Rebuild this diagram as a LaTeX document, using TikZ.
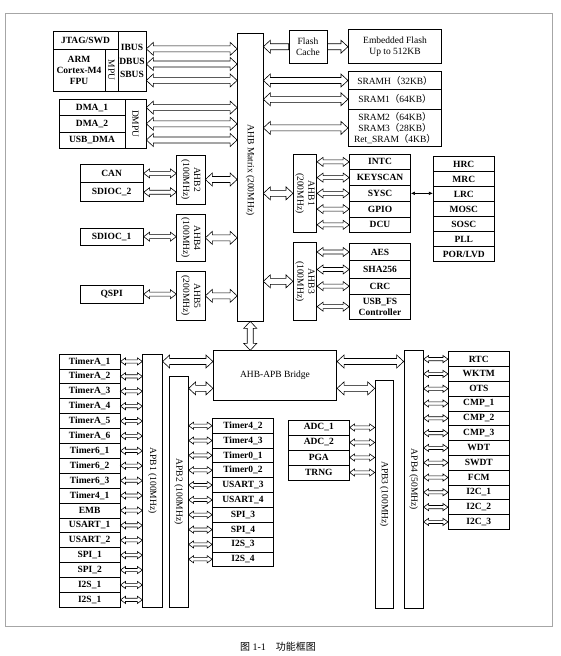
\documentclass[tikz,border=0pt]{standalone}
\usepackage{fontspec}
\setmainfont{Liberation Serif}
\newfontfamily\cjk{Noto Sans CJK SC}
\usetikzlibrary{calc,arrows.meta}
\newcommand{\fwl}{{\cjk （}}
\newcommand{\fwr}{{\cjk ）}}
\tikzset{
  bigbus/.code={\def\arS{3pt}\def\arH{6.5pt}\def\arL{7pt}},
  midbus/.code={\def\arS{2pt}\def\arH{4.5pt}\def\arL{6pt}},
  smallbus/.code={\def\arS{1.6pt}\def\arH{3.6pt}\def\arL{5pt}},
  busline/.style={line width=.6pt},
  box/.style={draw, line width=.7pt, inner sep=0pt, align=center, font=\fontsize{9.5}{11}\selectfont},
  hbox/.style={box, font=\fontsize{9.5}{11}\selectfont\bfseries},
  cell/.style={hbox, minimum width=61pt, minimum height=#1},
  cell/.default=14.8pt,
  vlabel/.style={rotate=-90, align=center, inner sep=0pt, font=\fontsize{9.5}{11}\selectfont}
}
\newcommand\busarrow[3][bigbus]{%
  \coordinate (ta) at (#2); \coordinate (tb) at (#3);
  \draw[busline,#1] (ta) -- ($(ta)!\arL!(tb)!\arH!90:(tb)$) -- ($(ta)!\arL!(tb)!\arS!90:(tb)$)
    -- ($(tb)!\arL!(ta)!\arS!-90:(ta)$) -- ($(tb)!\arL!(ta)!\arH!-90:(ta)$) -- (tb)
    -- ($(tb)!\arL!(ta)!\arH!90:(ta)$) -- ($(tb)!\arL!(ta)!\arS!90:(ta)$)
    -- ($(ta)!\arL!(tb)!\arS!-90:(tb)$) -- ($(ta)!\arL!(tb)!\arH!-90:(tb)$) -- cycle;}
\newcommand\onearrow[3][bigbus]{%
  \coordinate (ta) at (#2); \coordinate (tb) at (#3);
  \draw[busline,#1] ($(ta)!\arS!90:(tb)$) -- ($(tb)!\arL!(ta)!\arS!-90:(ta)$)
    -- ($(tb)!\arL!(ta)!\arH!-90:(ta)$) -- (tb) -- ($(tb)!\arL!(ta)!\arH!90:(ta)$)
    -- ($(tb)!\arL!(ta)!\arS!90:(ta)$) -- ($(ta)!\arS!-90:(tb)$) -- cycle;}
\begin{document}
\begin{tikzpicture}[x=1pt, y=-1pt]
\useasboundingbox (0,0) rectangle (560,656);
\draw[gray!70, line width=1pt] (5,13) rectangle (552,626);

\node[hbox, minimum width=65pt, minimum height=18pt] (jtag) at (85.5,40) {JTAG/SWD};
\node[hbox, minimum width=52pt, minimum height=42pt] (arm) at (79,70) {ARM\\Cortex-M4\\FPU};
\node[box, minimum width=13pt, minimum height=42pt] (mpu) at (111.5,70) {};
\node[vlabel] (mput) at (mpu) {MPU};
\node[hbox, minimum width=28pt, minimum height=60pt] (bus) at (132,61) {IBUS\\[2.5pt]DBUS\\[2.5pt]SBUS};

\foreach \t [count=\i] in {DMA\_1,DMA\_2,USB\_DMA}
  \node[hbox, minimum width=66pt, minimum height=16.2pt] (dma\i) at (92,{99.5+(\i-.5)*16.2}) {\t};
\node[box, minimum width=21pt, minimum height=48.6pt] (dmpu) at (135.5,123.8) {};
\node[vlabel] (dmput) at (dmpu) {DMPU};

\node[box, minimum width=25.5pt, minimum height=288pt] (mat) at (250.25,177) {};
\node[vlabel] (matt) at ([yshift=7pt]mat.center) {AHB Matrix (200MHz)};

\node[box, minimum width=38pt, minimum height=33pt] (fc) at (308,46.7) {Flash\\Cache};
\node[box, minimum width=93.4pt, minimum height=34pt] (ef) at (395,46.3) {Embedded Flash\\Up to 512KB};
\node[box, minimum width=93.4pt, minimum height=17.6pt] (sramh) at (395,80.5) {SRAMH\fwl32KB\fwr};
\node[box, minimum width=93.4pt, minimum height=20pt] (sram1) at (395,99.3) {SRAM1\fwl64KB\fwr};
\node[box, minimum width=93.4pt, minimum height=37.2pt] (sram2) at (395,127.9) {SRAM2\fwl64KB\fwr\\SRAM3\fwl28KB\fwr\\Ret\_SRAM\fwl4KB\fwr};

\foreach \n/\y/\h/\f in {2/179.5/49/100,4/237.85/47.7/100,5/295.85/48.3/200} {
  \node[box, minimum width=28.3pt, minimum height=\h] (ahb\n) at (190.85,\y) {};
  \node[vlabel] (ahb\n t) at (ahb\n) {AHB\n\\(\f MHz)};
}
\node[hbox, minimum width=63.3pt, minimum height=18.7pt] (can) at (111.65,173.35) {CAN};
\node[hbox, minimum width=63.3pt, minimum height=19pt] (sdioc2) at (111.65,192.2) {SDIOC\_2};
\node[hbox, minimum width=63.3pt, minimum height=17pt] (sdioc1) at (111.65,236.65) {SDIOC\_1};
\node[hbox, minimum width=63.3pt, minimum height=18.3pt] (qspi) at (111.65,294.15) {QSPI};

\node[box, minimum width=23.4pt, minimum height=78.7pt] (ahb1) at (305,193.35) {};
\node[vlabel] (ahb1t) at (ahb1) {AHB1\\(200MHz)};
\node[box, minimum width=23.4pt, minimum height=77.3pt] (ahb3) at (305,281.35) {};
\node[vlabel] (ahb3t) at (ahb3) {AHB3\\(100MHz)};
\foreach \t [count=\i] in {INTC,KEYSCAN,SYSC,GPIO,DCU}
  \node[cell=15.74pt] (ah1p\i) at (380,{154+(\i-.5)*15.74}) {\t};
\foreach \t [count=\i] in {HRC,MRC,LRC,MOSC,SOSC,PLL,POR/LVD}
  \node[cell=15pt] (clk\i) at (463.8,{156.7+(\i-.5)*15}) {\t};
\foreach \t/\y/\h [count=\i] in {AES/252/17.4,SHA256/269.5/17.6,CRC/286.15/15.7,USB\_FS\\Controller/306.65/25.3}
  \node[cell=\h] (ah3p\i) at (380,\y) {\t};

\node[box, minimum width=123.4pt, minimum height=50pt] (bridge) at (275,375.7) {AHB-APB Bridge};
\foreach \n/\x/\y/\w/\h/\f in {1/152.5/480.65/19.6/253.3/100,2/178.65/491.65/19.3/231.3/100,3/384.15/494/18.3/228/100,4/413.65/479.35/19.3/257.3/50} {
  \node[box, minimum width=\w, minimum height=\h] (apb\n) at (\x,\y) {};
  \node[vlabel] (apb\n t) at (apb\n) {APB\n\ (\f MHz)};
}

\foreach \t [count=\i] in {TimerA\_1,TimerA\_2,TimerA\_3,TimerA\_4,TimerA\_5,TimerA\_6,Timer6\_1,Timer6\_2,Timer6\_3,Timer4\_1,EMB,USART\_1,USART\_2,SPI\_1,SPI\_2,I2S\_1,I2S\_1} {
  \node[cell=14.9pt] (pa\i) at (89.65,{354+(\i-.5)*14.9}) {\t};
  \busarrow[smallbus]{pa\i.east}{apb1.west |- pa\i};
}
\foreach \t [count=\i] in {Timer4\_2,Timer4\_3,Timer0\_1,Timer0\_2,USART\_3,USART\_4,SPI\_3,SPI\_4,I2S\_3,I2S\_4} {
  \node[cell=14.84pt] (pb\i) at (243,{418.3+(\i-.5)*14.84}) {\t};
  \busarrow[smallbus]{apb2.east |- pb\i}{pb\i.west};
}
\foreach \t [count=\i] in {ADC\_1,ADC\_2,PGA,TRNG} {
  \node[cell=15pt] (pc\i) at (318.8,{420+(\i-.5)*15}) {\t};
  \busarrow[smallbus]{pc\i.east}{apb3.west |- pc\i};
}
\foreach \t [count=\i] in {RTC,WKTM,OTS,CMP\_1,CMP\_2,CMP\_3,WDT,SWDT,FCM,I2C\_1,I2C\_2,I2C\_3} {
  \node[cell] (pd\i) at (478.8,{351.7+(\i-.5)*14.8}) {\t};
  \busarrow[smallbus]{apb4.east |- pd\i}{pd\i.west};
}

\foreach \f [count=\i] in {.3,.55,.82} {
  \coordinate (cb\i) at ($(bus.north east)!\f!(bus.south east)$);
  \busarrow{cb\i}{mat.west |- cb\i};
}
\foreach \i in {1,2,3} \busarrow{dmpu.east |- dma\i}{mat.west |- dma\i};
\onearrow{fc.west}{mat.east |- fc.west};
\onearrow{fc.east}{ef.west |- fc.east};
\foreach \n in {sramh,sram1,sram2} \busarrow{mat.east |- \n}{\n.west};
\foreach \n in {can,sdioc2} \busarrow[midbus]{\n.east}{ahb2.west |- \n};
\busarrow[midbus]{sdioc1.east}{ahb4.west |- sdioc1};
\busarrow[midbus]{qspi.east}{ahb5.west |- qspi};
\foreach \n in {2,4,5} \busarrow{ahb\n.east}{mat.west |- ahb\n};
\foreach \n in {1,3} \busarrow{mat.east |- ahb\n}{ahb\n.west};
\foreach \i in {1,...,5} \busarrow[midbus]{ahb1.east |- ah1p\i}{ah1p\i.west};
\foreach \i in {1,...,4} \busarrow[midbus]{ahb3.east |- ah3p\i}{ah3p\i.west};
\draw[line width=.6pt, {Latex[length=4pt,width=3.5pt]}-{Latex[length=4pt,width=3.5pt]}] (ah1p3.east) -- (ah1p3.east -| clk3.west);
\busarrow{mat.south}{mat.south |- bridge.north};

\coordinate (bl1) at ($(bridge.north west)!.22!(bridge.south west)$);
\coordinate (bl2) at ($(bridge.north west)!.75!(bridge.south west)$);
\coordinate (br1) at ($(bridge.north east)!.22!(bridge.south east)$);
\coordinate (br2) at ($(bridge.north east)!.75!(bridge.south east)$);
\busarrow{apb1.east |- bl1}{bl1};
\busarrow{apb2.east |- bl2}{bl2};
\busarrow{br1}{apb4.west |- br1};
\busarrow{br2}{apb3.west |- br2};

\node[font=\fontsize{10}{12}\selectfont] (cap) at (278,647) {{\cjk 图}\ 1-1\quad{\cjk 功能框图}};
\end{tikzpicture}
\end{document}
